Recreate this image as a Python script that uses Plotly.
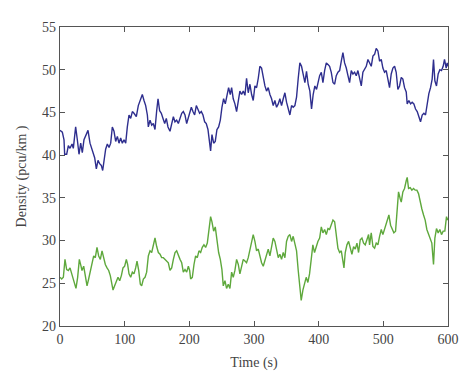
import plotly.graph_objects as go

# Blue series (upper)
blue_t = [0, 3.6, 6.2, 7.2, 10.3, 12.9, 15.5, 18.6, 20.6, 24.2, 26.8, 29.4, 32.0, 34.5, 37.1, 39.7, 43.3, 46.4, 49.0, 51.5,
          53.6, 56.2, 58.8, 61.3, 63.9, 66.0, 68.0, 70.6, 73.2, 75.8, 78.4, 80.9, 83.5, 86.1, 88.7, 91.2, 93.8, 96.4, 99.0, 101.6,
          104.1, 106.7, 109.3, 111.9, 114.4, 118.0, 121.1, 124.8, 127.3, 129.9, 132.5, 135.1, 136.6, 139.2, 141.8, 144.3, 146.9, 149.5, 151.6, 154.1,
          156.7, 159.3, 161.9, 164.4, 167.0, 170.1, 172.7, 175.3, 177.8, 180.4, 183.0, 185.6, 188.2, 190.7, 193.3, 195.9,
          200.5, 203.1, 205.6, 208.2, 210.8, 213.4, 215.9, 218.5, 221.1, 223.7, 226.2, 228.8, 231.4, 232.9, 235.0, 237.6, 240.1, 242.7, 245.3, 247.9,
          250.4, 253.0, 255.6, 258.2, 260.7, 263.3, 265.4, 267.9, 270.5, 273.1, 275.7, 278.2, 280.8, 283.4, 286.0, 288.5, 291.1, 293.7, 296.3, 298.8,
          301.4, 304.0, 306.6, 309.1, 311.7, 314.3, 316.9, 319.4, 322.0, 324.6, 327.2, 329.7, 332.3, 334.9, 337.5, 340.0, 342.6, 345.2, 347.8, 350.3,
          352.9, 355.5, 358.1, 360.6, 363.2, 365.8, 368.4, 370.9, 373.5, 376.1, 378.7, 381.2, 383.8, 386.4, 389.0, 391.5, 394.1, 396.7, 399.3,
          401.5, 404.1, 406.6, 409.2, 411.8, 414.4, 416.9, 419.5, 422.1, 424.7, 427.2, 429.8, 432.4, 435.0, 437.5, 440.1, 442.7, 445.3, 447.8, 450.4,
          453.0, 455.6, 458.1, 460.7, 463.3, 465.9, 468.4, 471.0, 473.6, 476.2, 478.7, 481.3, 483.9, 486.5, 489.0, 491.6, 494.2, 496.8, 499.3, 501.9,
          504.5, 507.1, 509.6, 512.2, 514.8, 517.4, 519.9, 522.5, 525.1, 527.7, 530.2, 532.8, 535.4, 536.9, 539.5, 542.1, 544.6, 547.2, 549.8, 552.4,
          554.9, 557.5, 560.1, 562.7, 565.2, 567.8, 570.4, 573.0, 575.5, 577.6, 579.7, 582.2, 584.8, 587.4, 590.0, 592.5, 594.6, 597.2, 598.7, 600]
blue_v = [42.9, 42.7, 41.8, 40.1, 40.1, 41.1, 40.8, 41.3, 40.8, 43.3, 41.8, 40.1, 41.4, 40.3, 41.8, 42.2, 42.9, 41.4, 40.7, 40.3,
          39.7, 38.4, 39.4, 39.0, 38.8, 38.2, 39.5, 40.7, 41.3, 40.9, 41.4, 43.3, 42.8, 41.6, 42.2, 41.4, 42.0, 41.4, 41.8, 41.4,
          43.3, 44.7, 44.3, 45.1, 44.9, 44.5, 45.8, 46.6, 47.1, 46.4, 45.8, 44.7, 43.3, 44.1, 43.5, 43.7, 43.0, 45.2, 46.6, 45.2,
          44.9, 44.3, 43.7, 44.3, 43.3, 42.8, 43.7, 44.5, 43.9, 44.1, 43.7, 44.3, 44.9, 45.1, 44.7, 43.7,
          44.9, 45.6, 45.1, 44.7, 45.8, 45.4, 44.9, 45.1, 44.7, 43.9, 43.7, 43.0, 41.6, 40.5, 42.4, 41.4, 41.6, 43.0, 43.3, 44.1,
          45.6, 46.6, 46.0, 46.8, 47.9, 47.1, 47.9, 46.6, 46.0, 45.1, 46.2, 47.5, 47.1, 47.5, 47.0, 49.0, 47.3, 48.3, 47.1, 46.4,
          48.1, 47.9, 49.0, 50.4, 50.2, 49.0, 48.1, 47.5, 47.9, 47.1, 46.6, 45.8, 46.4, 45.6, 46.0, 46.6, 45.8, 46.6, 47.3, 46.2,
          45.4, 44.7, 45.8, 45.6, 45.8, 46.8, 49.0, 50.8, 50.4, 49.6, 48.5, 49.8, 48.3, 47.5, 45.4, 47.1, 48.1, 47.7, 48.5,
          49.3, 49.7, 48.5, 49.9, 50.8, 50.6, 50.4, 49.7, 48.5, 48.3, 49.3, 49.7, 49.9, 51.0, 52.0, 50.8, 50.2, 49.3, 48.5, 49.9,
          49.5, 49.7, 49.3, 49.9, 49.1, 48.1, 49.7, 50.0, 50.4, 51.2, 50.8, 50.4, 51.6, 51.8, 52.5, 52.2, 51.0, 51.2, 50.2, 49.7,
          49.9, 48.9, 47.9, 49.5, 50.2, 50.4, 49.7, 47.7, 48.1, 49.1, 48.9, 47.9, 47.4, 46.0, 46.4, 46.0, 46.2, 46.0, 45.4, 45.1,
          44.5, 43.9, 44.7, 44.9, 44.7, 46.2, 47.2, 47.9, 48.9, 51.2, 48.7, 48.1, 49.5, 50.0, 49.9, 50.4, 51.2, 50.2, 50.8, 50.4]

# Green series (lower)
green_t = [0, 2.6, 5.2, 7.7, 10.3, 12.9, 15.5, 18.0, 20.6, 23.2, 24.7, 27.3, 29.9, 32.5, 34.0, 36.6, 39.2, 41.8, 44.3, 46.9,
           49.5, 52.1, 54.6, 57.2, 59.8, 62.4, 65.0, 67.5, 70.1, 72.7, 75.3, 77.8, 80.4, 82.0, 84.5, 87.1, 89.7, 92.3, 94.9, 97.4,
           100.0, 102.6, 104.6, 106.7, 109.3, 111.9, 114.4, 117.0, 119.1, 121.7, 124.2, 126.3, 128.9, 131.5, 134.0, 136.6, 139.2, 141.8, 144.3, 146.9,
           149.5, 152.1, 154.7, 157.2, 159.8, 162.4, 165.0, 167.5, 170.1, 172.7, 175.3, 177.9, 180.4, 183.0, 185.6, 188.2, 190.7, 193.3, 195.9, 198.5,
           200.5, 202.0, 204.6, 207.2, 209.7, 212.3, 214.9, 217.5, 220.0, 222.6, 225.2, 227.8, 230.3, 232.9, 235.0, 237.6, 240.1, 242.7, 245.3, 247.9,
           250.4, 252.5, 255.1, 257.6, 260.2, 262.8, 265.4, 267.9, 270.5, 273.1, 275.7, 278.2, 280.8, 283.4, 286.0, 288.5, 291.1, 293.7, 296.3, 298.8,
           301.4, 304.0, 306.6, 309.1, 311.7, 314.3, 316.9, 319.4, 322.0, 324.6, 327.2, 329.7, 332.3, 334.9, 337.5, 340.0, 342.6, 345.2, 347.8, 350.3,
           352.9, 355.5, 358.1, 360.6, 363.2, 365.8, 368.4, 370.9, 373.0, 375.6, 378.2, 380.7, 383.3, 385.9, 388.5, 391.0, 393.6, 396.2, 398.8,
           401.5, 404.1, 406.6, 409.2, 411.8, 414.4, 416.9, 419.5, 422.1, 424.7, 427.2, 429.8, 432.4, 435.0, 437.5, 439.1, 441.1, 443.7, 446.3, 448.9,
           451.4, 454.0, 456.6, 459.2, 461.7, 464.3, 466.9, 469.5, 472.0, 474.6, 477.2, 478.7, 481.3, 483.9, 486.5, 489.0, 491.6, 494.2, 496.8, 499.3,
           501.9, 504.5, 507.1, 508.6, 511.2, 513.7, 516.3, 518.9, 521.0, 523.5, 526.1, 527.7, 530.2, 532.8, 535.4, 536.9, 539.0, 541.6, 544.1, 546.7,
           549.3, 551.9, 554.4, 557.0, 559.6, 562.2, 564.7, 567.3, 569.9, 572.5, 575.0, 577.6, 579.7, 582.2, 584.8, 587.4, 590.0, 592.5, 595.1, 597.7, 599.2, 600]
green_v = [25.7, 25.5, 25.7, 27.8, 26.6, 26.5, 26.8, 26.1, 25.7, 24.9, 24.4, 25.7, 27.8, 27.0, 26.5, 27.0, 25.7, 24.7, 25.5, 26.5,
           27.4, 28.2, 28.0, 29.2, 28.2, 27.8, 28.8, 27.8, 27.2, 26.8, 26.5, 25.9, 24.7, 24.2, 24.7, 25.3, 25.7, 25.3, 25.9, 26.8,
           27.0, 27.8, 27.2, 26.1, 25.7, 26.3, 26.1, 26.8, 27.6, 26.5, 24.9, 24.7, 25.5, 25.7, 26.3, 28.2, 28.8, 28.6, 29.5, 30.3,
           29.3, 28.6, 28.4, 28.0, 28.0, 27.8, 27.6, 27.4, 26.5, 26.8, 27.8, 28.6, 28.8, 28.2, 27.8, 27.4, 26.3, 26.6, 26.3, 27.0,
           26.5, 25.5, 25.7, 27.2, 28.2, 28.0, 28.8, 28.6, 29.2, 29.5, 29.2, 29.7, 31.3, 32.8, 32.2, 31.1, 31.6, 30.1, 28.6, 27.8,
           26.6, 24.7, 25.3, 24.4, 24.9, 24.4, 26.3, 25.7, 26.5, 27.8, 27.2, 26.1, 26.8, 27.8, 27.6, 27.4, 28.0, 28.8, 29.7, 30.7,
           29.9, 28.8, 29.0, 28.0, 27.4, 27.0, 27.6, 28.4, 29.0, 28.2, 29.2, 30.3, 29.9, 29.0, 28.0, 28.4, 27.8, 28.6, 28.0, 29.9,
           30.5, 30.7, 29.9, 30.5, 29.7, 28.8, 26.5, 24.4, 23.0, 24.2, 24.9, 25.7, 25.1, 26.1, 27.8, 29.5, 28.6, 29.3, 29.9,
           30.3, 31.6, 30.9, 31.3, 30.7, 31.4, 31.3, 31.8, 32.4, 32.2, 30.9, 29.1, 28.6, 28.8, 27.6, 26.8, 28.6, 29.5, 29.9, 29.0,
           28.4, 29.3, 29.0, 29.7, 28.6, 30.1, 30.3, 29.7, 29.5, 30.1, 30.7, 29.5, 30.9, 29.3, 29.1, 29.7, 29.5, 30.5, 31.3, 30.7,
           31.3, 31.8, 32.6, 33.0, 31.8, 31.3, 30.9, 31.1, 32.8, 35.7, 34.9, 34.5, 35.7, 36.1, 37.0, 37.4, 36.1, 36.2, 35.9, 36.1,
           35.9, 35.9, 35.5, 34.5, 33.7, 33.0, 32.4, 31.3, 30.7, 30.1, 29.7, 27.2, 30.3, 31.4, 30.9, 31.3, 30.7, 31.1, 31.1, 32.8, 32.4, 32.6]

x_ticks = [0, 100, 200, 300, 400, 500, 600]
y_ticks = [20, 25, 30, 35, 40, 45, 50, 55]

FONT = "Liberation Serif, Times New Roman, serif"

fig = go.Figure()
fig.add_trace(go.Scatter(x=blue_t, y=blue_v, mode="lines",
                         line=dict(color="#2e2e8e", width=1.4), showlegend=False))
fig.add_trace(go.Scatter(x=green_t, y=green_v, mode="lines",
                         line=dict(color="#5ea83c", width=1.4), showlegend=False))

axis_common = dict(showline=True, linecolor="#555555", linewidth=1.2, mirror="ticks",
                   ticks="inside", ticklen=5, tickwidth=1.2, tickcolor="#555555",
                   showgrid=False, zeroline=False,
                   tickfont=dict(family=FONT, size=14, color="#444444"))

fig.update_layout(
    width=474, height=384,
    margin=dict(l=52, r=34, t=14, b=66),
    paper_bgcolor="white", plot_bgcolor="white",
    font=dict(family=FONT, size=14, color="#444444"),
    xaxis=dict(range=[0, 600], tickvals=x_ticks,
               title=dict(text="Time (s)", font=dict(family=FONT, size=14, color="#444444"), standoff=11),
               **axis_common),
    yaxis=dict(range=[20, 55], tickvals=y_ticks,
               title=dict(text="Density (pcu/km )", font=dict(family=FONT, size=14, color="#444444"), standoff=12),
               **axis_common),
)

fig.write_html("out.html")
